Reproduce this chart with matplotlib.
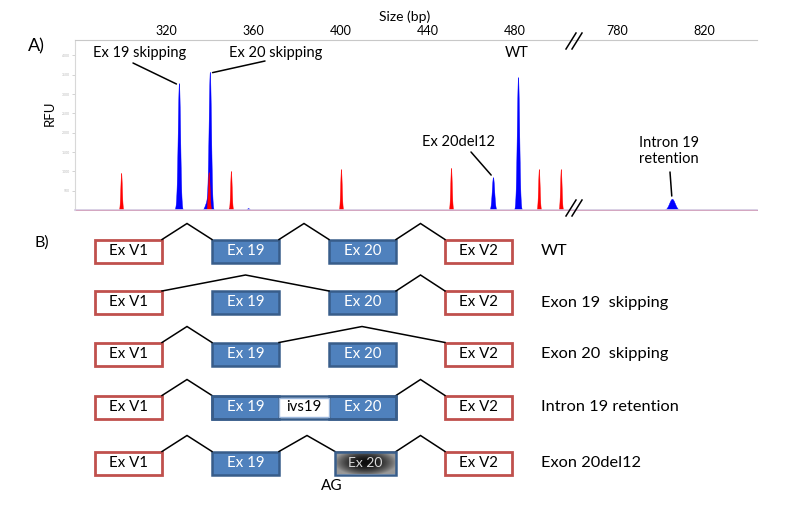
import numpy as np
import matplotlib.pyplot as plt
from matplotlib.patches import Rectangle

plt.rcParams['font.family'] = ['Lato', 'DejaVu Sans']

# --- A) electropherogram peaks (size in bp, height in RFU) ---
peak_bp = [299.2, 325.0, 325.8, 338.5, 340.0, 339.5, 349.5, 349.7, 357.6,
           400.3, 450.9, 470.2, 481.7, 491.3, 501.4, 805.1]
peak_rfu = [960, 130, 3230, 200, 3540, 980, 100, 1010, 50,
            1060, 1090, 850, 3440, 1060, 1060, 290]
peak_dye = ['red', 'blue', 'blue', 'blue', 'blue', 'red', 'blue', 'red', 'blue',
            'red', 'red', 'blue', 'blue', 'red', 'red', 'blue']
peak_sd = [0.35, 0.6, 0.55, 0.8, 0.55, 0.4, 0.5, 0.35, 0.5,
           0.35, 0.35, 0.55, 0.55, 0.35, 0.35, 1.3]
size_ticks = [320, 360, 400, 440, 480, 780, 820]
rfu_ticks = [500, 1000, 1500, 2000, 2500, 3000, 3500, 4000]

break_lo = 503.5   # axis is cut between these two sizes
break_hi = 756.1

# --- B) transcript diagram ---
exon_names = ['Ex V1', 'Ex 19', 'Ex 20', 'Ex V2']
row_labels = ['WT', 'Exon 19  skipping', 'Exon 20  skipping',
              'Intron 19 retention', 'Exon 20del12']
row_junctions = [[(0, 1), (1, 2), (2, 3)],
                 [(0, 2), (2, 3)],
                 [(0, 1), (1, 3)],
                 [(0, 1), (2, 3)],
                 [(0, 1), (1, 2), (2, 3)]]


def xmap(bp):
    bp = np.asarray(bp, dtype=float)
    return np.where(bp > 600, bp - (break_hi - break_lo), bp)


fig = plt.figure(figsize=(7.85, 5.12), dpi=100)
W, H = 785, 512

# electropherogram axes, placed in pixels
L, R, T, B = 75, 757, 40, 210
ax = fig.add_axes([L / W, 1 - B / H, (R - L) / W, (B - T) / H])
ax.set_xlim(278, 591.6)
ax.set_ylim(0, 4400)

xs = np.linspace(278, 591.6, 30000)
for dye in ['blue', 'red']:
    ys = np.zeros_like(xs)
    for b, h, d, s in zip(peak_bp, peak_rfu, peak_dye, peak_sd):
        if d == dye:
            ys += h * np.exp(-0.5 * ((xs - xmap(b)) / s) ** 2)
    ax.fill_between(xs, 0, ys, color=dye, lw=0.3, edgecolor=dye)

ax.xaxis.tick_top()
ax.set_xticks(xmap(size_ticks))
ax.set_xticklabels([str(t) for t in size_ticks], fontsize=9)
ax.tick_params(axis='x', length=0, pad=2)
ax.set_yticks(rfu_ticks)
ax.set_yticklabels([str(t) for t in rfu_ticks], fontsize=2.5, color='#bbbbbb')
ax.tick_params(axis='y', length=2.5, color='#cccccc', width=0.6, pad=1)
ax.spines['right'].set_visible(False)
ax.spines['top'].set_color('#c8c8c8')
ax.spines['left'].set_color('#d8d8d8')
ax.spines['bottom'].set_color('#d3c8e0')
ax.spines['bottom'].set_linewidth(1.2)
ax.patch.set_alpha(0)

# overlay axes in pixel coordinates for labels and the diagram
axb = fig.add_axes([0, 0, 1, 1])
axb.patch.set_alpha(0)
axb.axis('off')

axb.text(405, 17, 'Size (bp)', ha='center', va='center', fontsize=10)
axb.text(50, 113, 'RFU', ha='center', va='center', rotation=90, fontsize=9.5)
axb.text(36, 46, 'A)', ha='center', va='center', fontsize=13)
axb.text(42, 243, 'B)', ha='center', va='center', fontsize=11.5)

# break marks
for yb in [41, 208]:
    for dx in [-3, 3]:
        axb.plot([574 + dx - 5, 574 + dx + 5], [yb + 8, yb - 8], color='black', lw=1.1)

# peak labels
peak_notes = [('Ex 19 skipping', 140, 53, (133, 63), 325.8, 3230),
              ('Ex 20 skipping', 276, 53, (265, 61), 340.0, 3540),
              ('WT', 517, 53, None, 481.7, 3440),
              ('Ex 20del12', 459, 142, (471, 152), 470.2, 850),
              ('Intron 19\nretention', 669, 151, (670, 172), 805.1, 290)]
for txt, tx, ty, start, b, h in peak_notes:
    axb.text(tx, ty, txt, ha='center', va='center', fontsize=10.5, linespacing=1.25)
    if start is not None:
        axb.annotate('', xy=(float(xmap(b)), h), xycoords=ax.transData,
                     xytext=start, textcoords='data',
                     arrowprops=dict(arrowstyle='-', color='black', lw=1.1,
                                     shrinkA=0, shrinkB=2))

# transcript rows
exon_left = [95, 212, 329, 445]
exon_w = 67
box_h = 23
row_y = [251, 302.5, 354, 407, 463]
red_edge = '#c0504d'
blue_fill = '#4f81bd'
blue_edge = '#385d8a'

for i, (label, junctions, yc) in enumerate(zip(row_labels, row_junctions, row_y)):
    top = yc - box_h / 2
    lefts = list(exon_left)
    rights = [x + exon_w for x in exon_left]
    if i == 4:
        lefts[2] = 335
    for k, name in enumerate(exon_names):
        if k in (0, 3):
            axb.add_patch(Rectangle((lefts[k], top), rights[k] - lefts[k], box_h,
                                    facecolor='white', edgecolor=red_edge, lw=2.0))
            axb.text((lefts[k] + rights[k]) / 2, yc, name, ha='center', va='center',
                     fontsize=10.8, color='black')
        elif i == 4 and k == 2:
            u = np.linspace(-1, 1, 80)
            v = np.linspace(-1, 1, 40)
            U, V = np.meshgrid(u, v)
            dist = np.clip(np.sqrt(0.9 * U ** 2 + 0.7 * V ** 2), 0, 1)
            axb.imshow(0.05 + 0.55 * dist ** 2, cmap='gray', vmin=0, vmax=1,
                       extent=[lefts[k], rights[k], yc + box_h / 2, top],
                       aspect='auto', zorder=2)
            axb.add_patch(Rectangle((lefts[k], top), rights[k] - lefts[k], box_h,
                                    facecolor='none', edgecolor=blue_edge, lw=1.8, zorder=3))
            axb.text((lefts[k] + rights[k]) / 2, yc, name, ha='center', va='center',
                     fontsize=10, color='#d8d8d8', zorder=4)
        else:
            axb.add_patch(Rectangle((lefts[k], top), rights[k] - lefts[k], box_h,
                                    facecolor=blue_fill, edgecolor=blue_edge, lw=1.8))
            axb.text((lefts[k] + rights[k]) / 2, yc, name, ha='center', va='center',
                     fontsize=10.8, color='white')
    if i == 3:
        axb.add_patch(Rectangle((rights[1], top + 2), lefts[2] - rights[1], box_h - 4,
                                facecolor='white', edgecolor='#9bb7dc', lw=1.0, zorder=2))
        axb.text((rights[1] + lefts[2]) / 2, yc, 'ivs19', ha='center', va='center',
                 fontsize=10.8, color='black', zorder=3)
        axb.add_patch(Rectangle((lefts[1], top), rights[2] - lefts[1], box_h,
                                facecolor='none', edgecolor=blue_edge, lw=1.8, zorder=3))
    for a, b in junctions:
        x0, x1 = rights[a], lefts[b]
        axb.plot([x0, (x0 + x1) / 2, x1], [top, top - 16, top],
                 color='black', lw=1.1, solid_joinstyle='miter')
    axb.text(541, yc, label, ha='left', va='center', fontsize=11.8)

axb.text(332, 486, 'AG', ha='center', va='center', fontsize=11)

axb.set_xlim(0, W)
axb.set_ylim(H, 0)

fig.savefig('out.png', dpi=100)
